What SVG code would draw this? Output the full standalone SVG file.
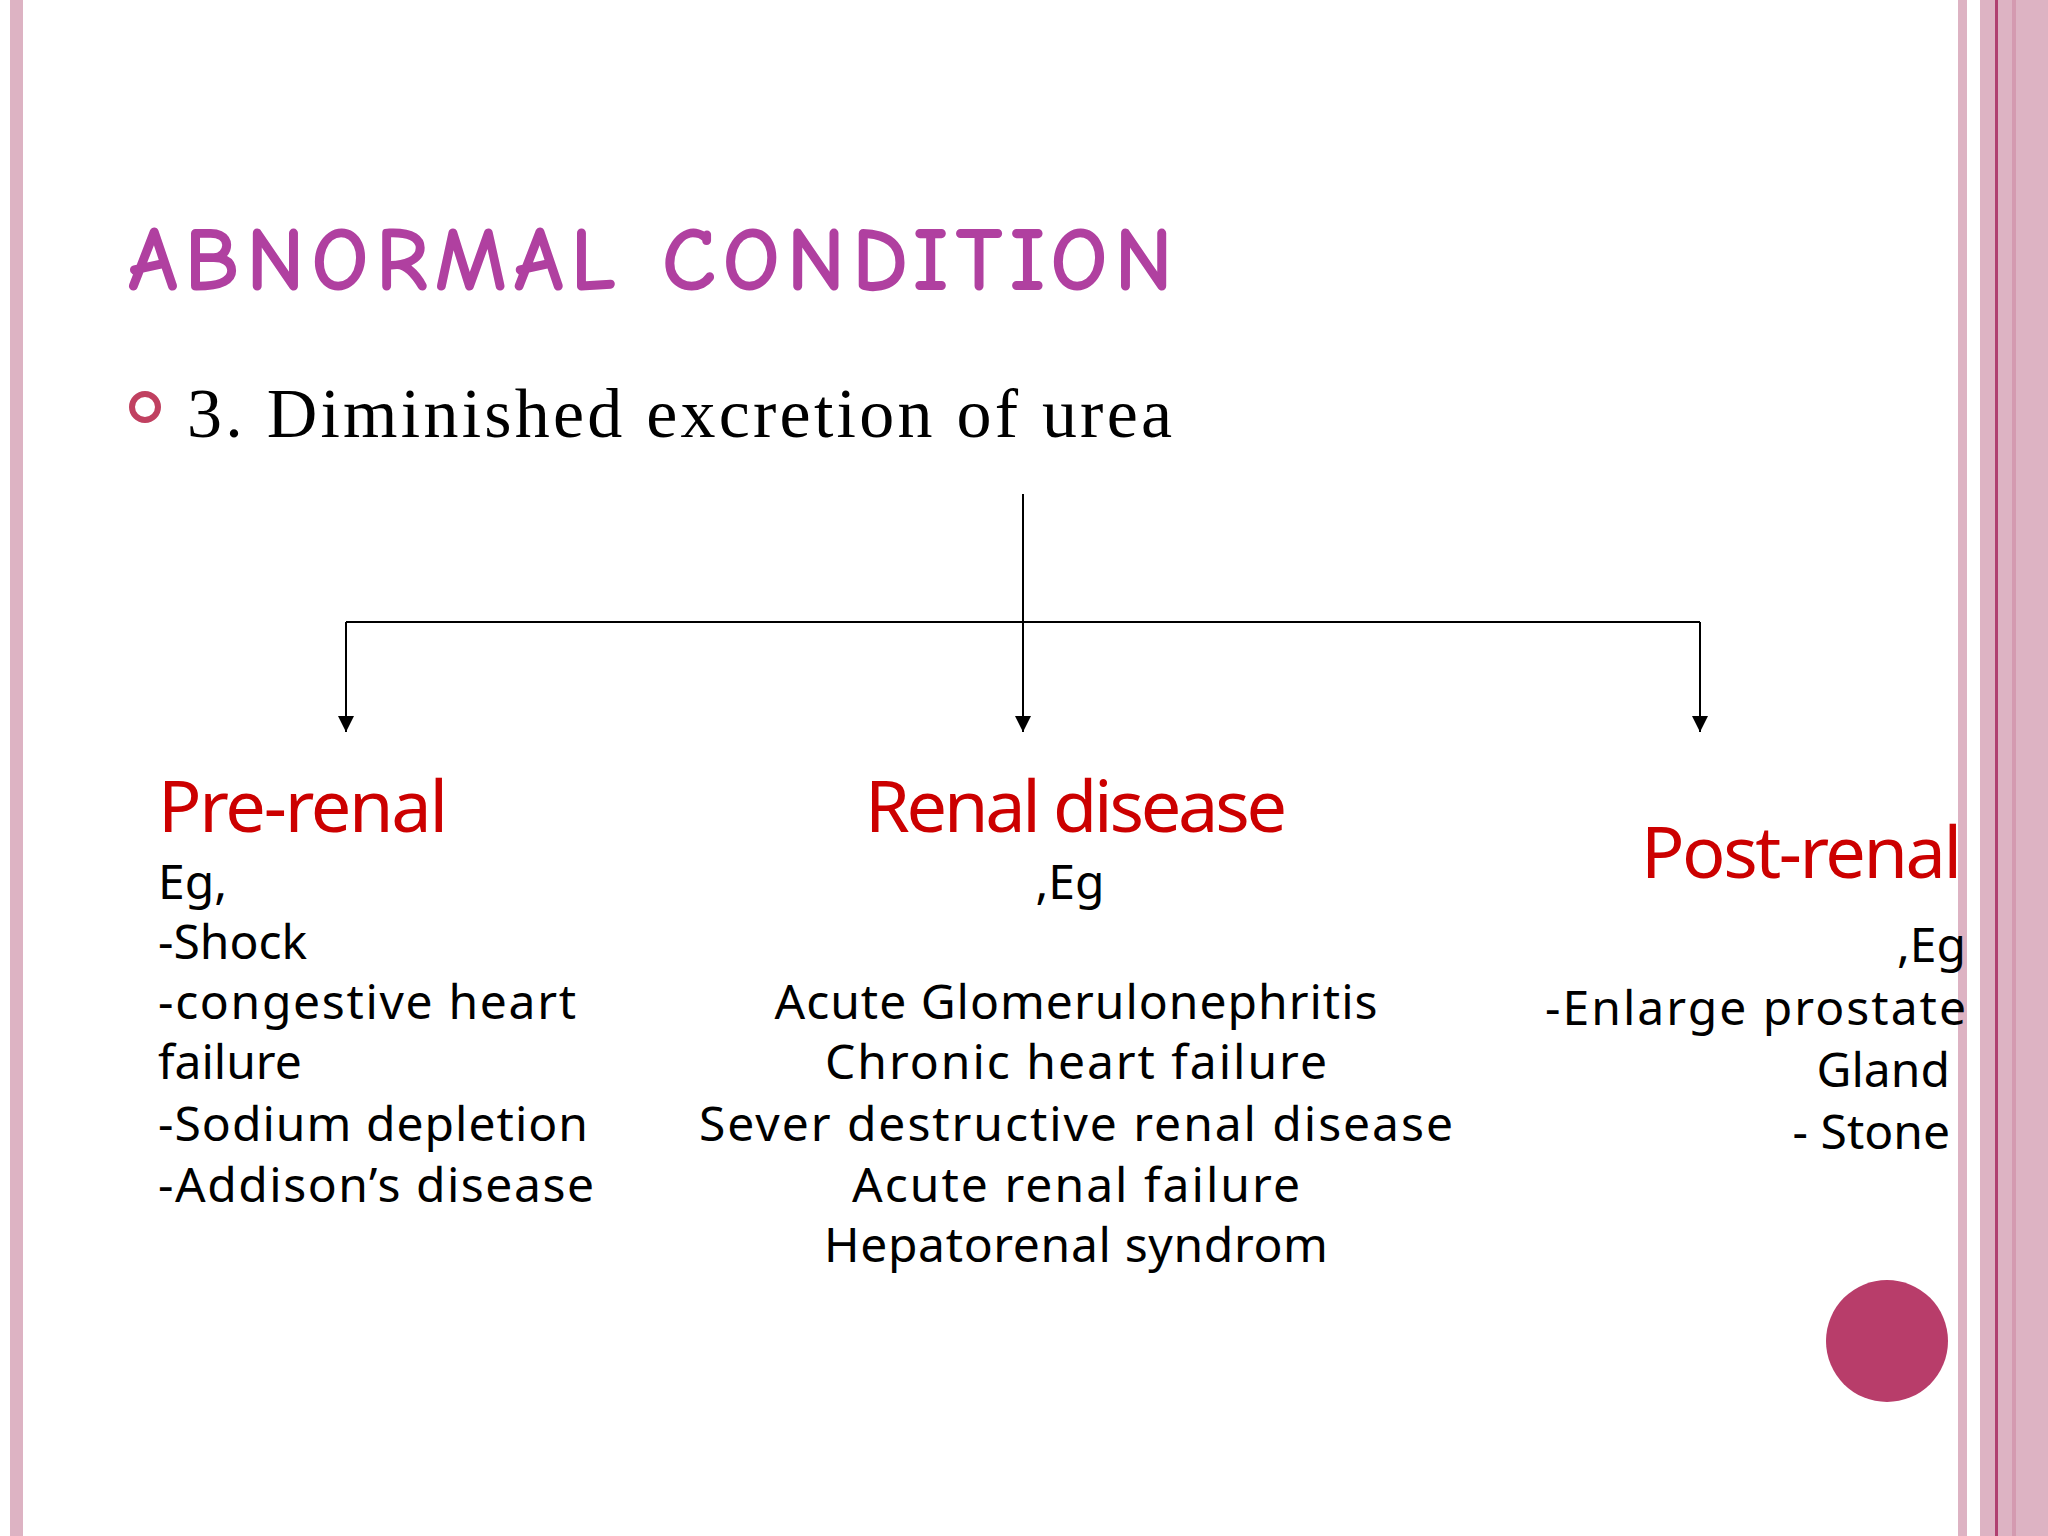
<svg xmlns="http://www.w3.org/2000/svg" width="2048" height="1536" viewBox="0 0 2048 1536">
<defs>
<style>
.h{font-family:"Comic Neue","Noto Sans","Liberation Sans",sans-serif}
.t{font-family:"Noto Sans","Liberation Sans",sans-serif;font-size:48px;fill:#000}
.r{font-family:"Noto Sans","Liberation Sans",sans-serif;font-size:72px;fill:#CC0000}
.c{stroke:#000;stroke-width:2;fill:none}
</style>
<marker id="a" viewBox="0 0 10 10" refX="10" refY="5" markerWidth="8" markerHeight="8" orient="auto"><path d="M0,0L10,5L0,10z" fill="#000"/></marker>
</defs>
<rect width="2048" height="1536" fill="#fff"/>
<rect x="10" y="0" width="13" height="1536" fill="#DDB3C3"/>
<rect x="1958" y="0" width="9" height="1536" fill="#DDB3C3"/>
<rect x="1980" y="0" width="68" height="1536" fill="#DDB3C3"/>
<rect x="1995" y="0" width="3" height="1536" fill="#B04070"/>
<rect x="2012" y="0" width="4" height="1536" fill="#D49AB0"/>
<g id="title"><text class="h" x="128" y="290" font-size="90" font-weight="bold" fill="#B040A0" textLength="1045">ABNORMAL CONDITION</text></g>
<g id="bullet"><circle cx="145" cy="407" r="13" fill="none" stroke="#C04060" stroke-width="6"/>
<text x="187" y="437" font-family="Liberation Serif,serif" font-size="70" textLength="985">3. Diminished excretion of urea</text></g>
<g id="connectors">
<path class="c" d="M1023,494V732"/>
<path class="c" d="M346,622H1700"/>
<path class="c" d="M346,622V732" marker-end="url(#a)"/>
<path class="c" d="M1023,622V732" marker-end="url(#a)"/>
<path class="c" d="M1700,622V732" marker-end="url(#a)"/>
</g>
<g id="prerenal">
<text class="r" x="158" y="832" textLength="290">Pre-renal</text>
<text class="t" x="158" y="899">Eg,</text>
<text class="t" x="158" y="959">-Shock</text>
<text class="t" x="158" y="1019" textLength="418">-congestive heart</text>
<text class="t" x="158" y="1079">failure</text>
<text class="t" x="158" y="1141" textLength="430">-Sodium depletion</text>
<text class="t" x="158" y="1202" textLength="436">-Addison’s disease</text>
</g>
<g id="renal" text-anchor="middle">
<text class="r" x="1076" y="832" textLength="422">Renal disease</text>
<text class="t" x="1070" y="899">,Eg</text>
<text class="t" x="1076" y="1019" textLength="603">Acute Glomerulonephritis</text>
<text class="t" x="1076" y="1079" textLength="502">Chronic heart failure</text>
<text class="t" x="1076" y="1141" textLength="754">Sever destructive renal disease</text>
<text class="t" x="1076" y="1202" textLength="448">Acute renal failure</text>
<text class="t" x="1076" y="1262" textLength="504">Hepatorenal syndrom</text>
</g>
<g id="postrenal" text-anchor="end">
<text class="r" x="1962" y="878" textLength="321">Post-renal</text>
<text class="t" x="1966" y="962">,Eg</text>
<text class="t" x="1966" y="1025" textLength="421">-Enlarge prostate</text>
<text class="t" x="1950" y="1087">Gland</text>
<text class="t" x="1950" y="1149">- Stone</text>
</g>
<circle cx="1887" cy="1341" r="61" fill="#B83D6A"/>
</svg>
